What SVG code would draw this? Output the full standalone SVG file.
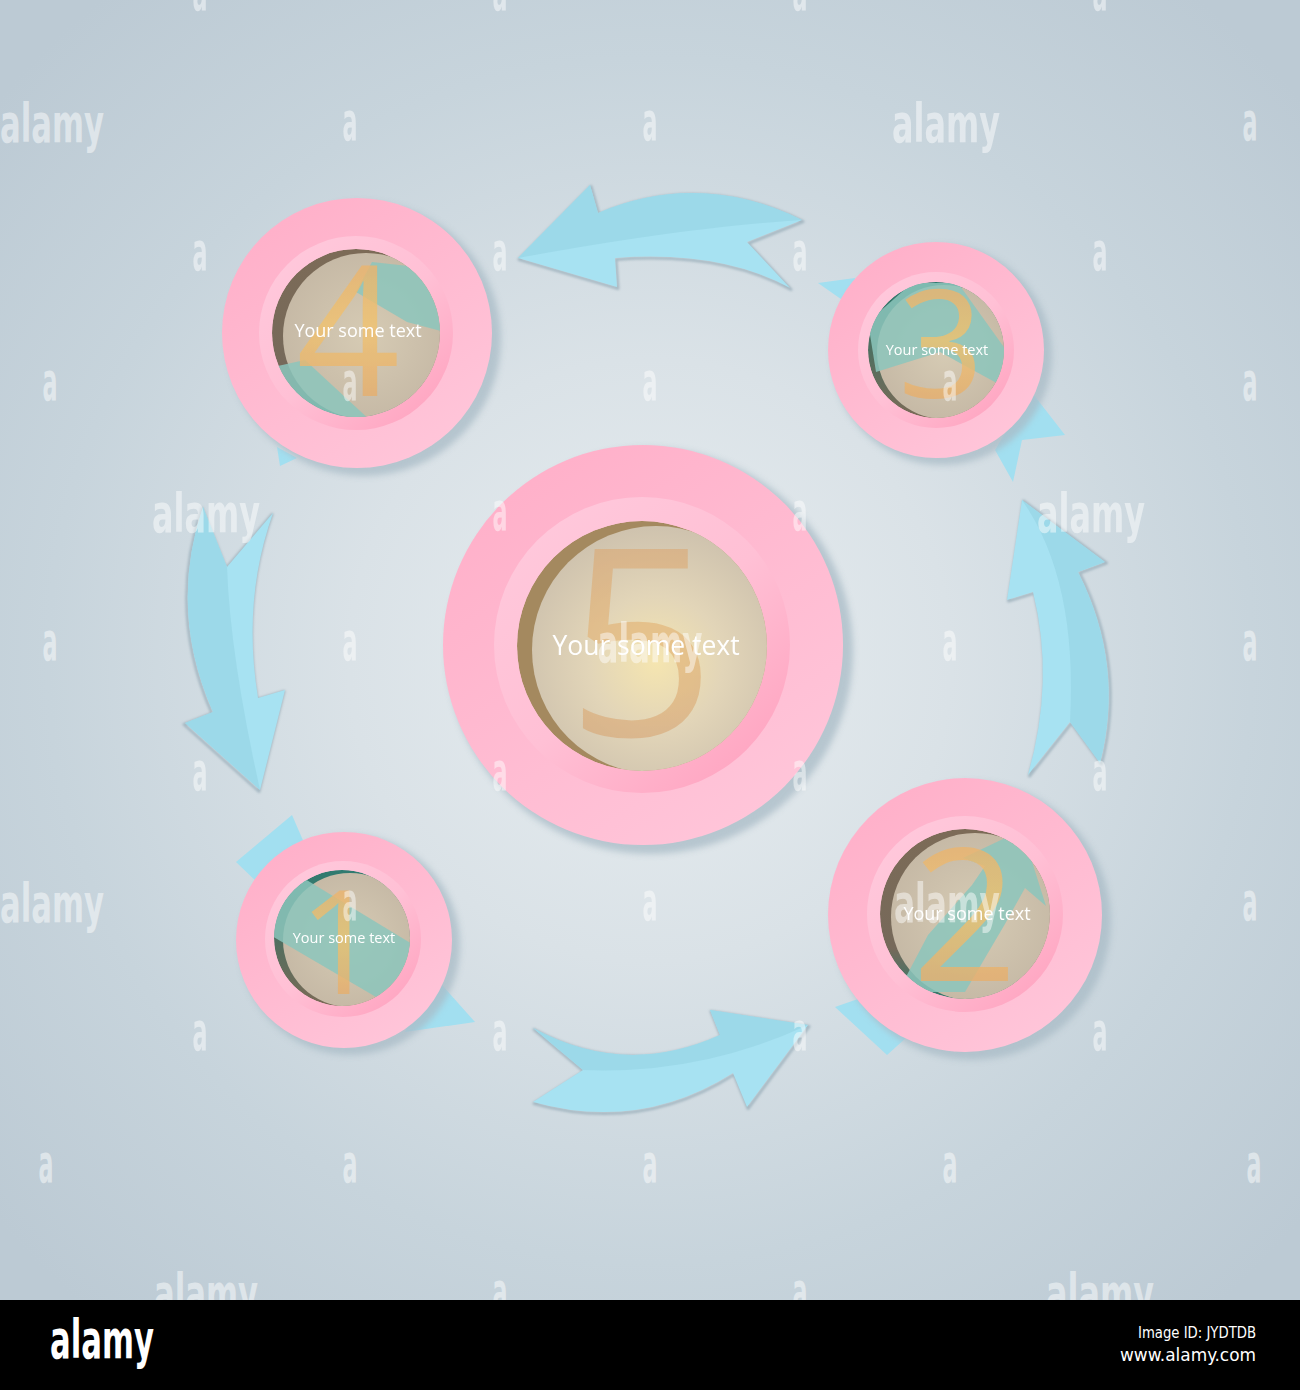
<svg xmlns="http://www.w3.org/2000/svg" width="1300" height="1390" viewBox="0 0 1300 1390">
<defs>
<style>
.arrow{fill:#a7e2f2}
.fold{fill:#98d5e6;opacity:.75}
.ashadow{fill:none;stroke:#9cb0bc;stroke-width:3;stroke-linejoin:round;opacity:.8}
.piece{fill:#a2dff0}
.outer{fill:url(#pinkOuter)}
.inner{fill:url(#pinkInner)}
.nshadow{fill:#a9bbc6;opacity:.75}
.teal{fill:#8cc6bc;opacity:.85}
.beige{fill:url(#beige)}
.lbl{fill:#ffffff;font-family:"Open Sans","Noto Sans",sans-serif;text-anchor:middle}
.dig{font-family:"Open Sans","Noto Sans",sans-serif;text-anchor:middle;fill:url(#digitGrad)}
.wm{fill:#ffffff;opacity:.48;font-family:"Liberation Sans Narrow","DejaVu Sans Condensed","Liberation Sans",sans-serif;font-weight:bold;text-anchor:middle;font-size:53px}
.ban{fill:#ffffff;font-family:"Liberation Sans Narrow","DejaVu Sans Condensed","Liberation Sans",sans-serif}
</style>
<radialGradient id="bg" gradientUnits="userSpaceOnUse" cx="650" cy="660" r="860">
<stop offset="0" stop-color="#e7edf0"/>
<stop offset="0.35" stop-color="#dae2e7"/>
<stop offset="0.7" stop-color="#c7d4dc"/>
<stop offset="1" stop-color="#bccad4"/>
</radialGradient>
<linearGradient id="pinkOuter" x1="0" y1="0" x2="0.7" y2="1">
<stop offset="0" stop-color="#ffadc7"/>
<stop offset="1" stop-color="#ffc5d9"/>
</linearGradient>
<linearGradient id="pinkInner" x1="0.1" y1="0" x2="0.9" y2="0.9">
<stop offset="0" stop-color="#ffc9dc"/>
<stop offset="0.55" stop-color="#ffc0d5"/>
<stop offset="1" stop-color="#ffa5c1"/>
</linearGradient>
<radialGradient id="beige" cx="0.5" cy="0.5" r="0.6">
<stop offset="0" stop-color="#d6cbb4"/>
<stop offset="1" stop-color="#c3b6a3"/>
</radialGradient>
<radialGradient id="beige5" cx="0.5" cy="0.55" r="0.6">
<stop offset="0" stop-color="#f5e5b0"/>
<stop offset="0.45" stop-color="#e2d5b8"/>
<stop offset="1" stop-color="#cbbfac"/>
</radialGradient>
<linearGradient id="digitGrad" x1="0" y1="0" x2="0" y2="1">
<stop offset="0" stop-color="#e6a56c"/>
<stop offset="0.5" stop-color="#f0c26e"/>
<stop offset="1" stop-color="#e0a06c"/>
</linearGradient>
<linearGradient id="digit5" x1="0" y1="0" x2="0" y2="1">
<stop offset="0" stop-color="#d29e76"/>
<stop offset="0.5" stop-color="#e2b070"/>
<stop offset="1" stop-color="#cf9c74"/>
</linearGradient>
<linearGradient id="crescentTeal" x1="0" y1="0" x2="0" y2="1">
<stop offset="0" stop-color="#2f7b70"/>
<stop offset="0.5" stop-color="#4f6f60"/>
<stop offset="1" stop-color="#7a6a56"/>
</linearGradient>
<linearGradient id="crescentBrown" x1="0" y1="0" x2="0" y2="1">
<stop offset="0" stop-color="#7c6b57"/>
<stop offset="0.7" stop-color="#76695a"/>
<stop offset="1" stop-color="#2f7a6d"/>
</linearGradient>
<filter id="soft" x="-20%" y="-20%" width="140%" height="140%">
<feGaussianBlur stdDeviation="3"/>
</filter>
<filter id="soft1" x="-10%" y="-10%" width="120%" height="120%">
<feGaussianBlur stdDeviation="1"/>
</filter>
<clipPath id="clip5"><circle cx="642" cy="646" r="125"/></clipPath>
<clipPath id="clip4"><circle cx="356" cy="333" r="84"/></clipPath>
<clipPath id="clip3"><circle cx="936" cy="350" r="68"/></clipPath>
<clipPath id="clip1"><circle cx="342" cy="938" r="68"/></clipPath>
<clipPath id="clip2"><circle cx="965" cy="914" r="85"/></clipPath>
<path id="arTop" d="M802,220 Q700,170 598,213 L590,185 L518,258 L617,287 L615,258 Q720,250 790,288 L747,242 Z"/>
<path id="arRight" d="M1028,775 Q1055,680 1033,592 L1007,600 L1022,500 L1105,562 L1078,572 Q1125,665 1100,763 L1070,722 Z"/>
<path id="arLeft" d="M203,507 Q168,610 213,712 L185,723 L260,790 L285,690 L258,698 Q242,600 273,513 L227,567 Z"/>
<path id="arBottom" d="M533,1028 Q625,1078 720,1035 L710,1010 L808,1025 L747,1107 L733,1073 Q640,1132 533,1102 L583,1070 Z"/>
</defs>

<rect x="0" y="0" width="1300" height="1390" fill="url(#bg)"/>

<g id="connectors">
<g filter="url(#soft1)">
<use href="#arTop" class="ashadow" transform="translate(1,1.5)"/>
<use href="#arRight" class="ashadow" transform="translate(1.5,1)"/>
<use href="#arLeft" class="ashadow" transform="translate(-1,1.5)"/>
<use href="#arBottom" class="ashadow" transform="translate(1,1.5)"/>
</g>
<use href="#arTop" class="arrow"/>
<path class="fold" d="M802,220 Q700,170 598,213 L590,185 L518,258 Q686,227 802,220 Z"/>
<use href="#arRight" class="arrow"/>
<path class="fold" d="M1022,500 L1105,562 L1078,572 Q1125,665 1100,763 L1070,722 Q1078,580 1022,500 Z"/>
<use href="#arLeft" class="arrow"/>
<path class="fold" d="M203,507 Q168,610 213,712 L185,723 L260,790 Q230,655 227,567 Z"/>
<use href="#arBottom" class="arrow"/>
<path class="fold" d="M533,1028 Q625,1078 720,1035 L710,1010 L808,1025 Q700,1075 583,1070 Z"/>
<polygon class="piece" points="818,283 855,278 868,318"/>
<polygon class="piece" points="1030,390 1065,435 1022,440 1013,482 995,450"/>
<polygon class="piece" points="277,447 297,458 280,466"/>
<polygon class="piece" points="292,815 305,845 260,885 236,862"/>
<polygon class="piece" points="433,975 475,1022 405,1032"/>
<polygon class="piece" points="835,1007 875,993 915,1030 887,1055"/>
</g>

<g id="node-5">
<circle class="nshadow" cx="650" cy="651" r="203" filter="url(#soft)"/>
<circle class="outer" cx="643" cy="645" r="200"/>
<circle class="inner" cx="642" cy="645" r="148"/>
<g clip-path="url(#clip5)">
<circle cx="642" cy="646" r="125" fill="#a4895f"/>
<circle cx="656" cy="650" r="124" fill="url(#beige5)"/>
<text x="641" y="736" font-size="262" opacity="0.6" font-family="Open Sans, Noto Sans, sans-serif" text-anchor="middle" fill="url(#digit5)">5</text>
</g>
<text class="lbl" x="646" y="655" font-size="26.5">Your some text</text>
</g>

<g id="node-4">
<circle class="nshadow" cx="364" cy="339" r="137" filter="url(#soft)"/>
<circle class="outer" cx="357" cy="333" r="135"/>
<circle class="inner" cx="356" cy="333" r="97"/>
<g clip-path="url(#clip4)">
<circle cx="356" cy="333" r="84" fill="url(#crescentBrown)"/>
<circle cx="366" cy="336" r="83" class="beige"/>
<polygon class="teal" points="372,262 445,270 445,332 407,322 356,292"/>
<polygon class="teal" points="268,368 305,360 372,422 285,422"/>
<text class="dig" x="348" y="396" font-size="182" opacity="0.8">4</text>
</g>
<text class="lbl" x="358" y="337" font-size="18">Your some text</text>
</g>

<g id="node-3">
<circle class="nshadow" cx="942" cy="355" r="110" filter="url(#soft)"/>
<circle class="outer" cx="936" cy="350" r="108"/>
<circle class="inner" cx="936" cy="350" r="78"/>
<g clip-path="url(#clip3)">
<circle cx="936" cy="350" r="68" fill="url(#crescentTeal)"/>
<circle cx="944" cy="352" r="67" class="beige"/>
<polygon class="teal" points="868,322 912,283 958,283 1006,350 1006,388 940,352 876,372"/>
<text class="dig" x="941" y="398" font-size="150" opacity="0.8">3</text>
</g>
<text class="lbl" x="937" y="355" font-size="14.5">Your some text</text>
</g>

<g id="node-1">
<circle class="nshadow" cx="350" cy="945" r="110" filter="url(#soft)"/>
<circle class="outer" cx="344" cy="940" r="108"/>
<circle class="inner" cx="343" cy="939" r="78"/>
<g clip-path="url(#clip1)">
<circle cx="342" cy="938" r="68" fill="url(#crescentTeal)"/>
<circle cx="350" cy="940" r="67" class="beige"/>
<polygon class="teal" points="270,878 300,876 412,944 412,990 388,1004 270,935"/>
<text class="dig" x="340" y="994" font-size="145" opacity="0.8">1</text>
</g>
<text class="lbl" x="344" y="943" font-size="14.5">Your some text</text>
</g>

<g id="node-2">
<circle class="nshadow" cx="972" cy="921" r="139" filter="url(#soft)"/>
<circle class="outer" cx="965" cy="915" r="137"/>
<circle class="inner" cx="965" cy="914" r="98"/>
<g clip-path="url(#clip2)">
<circle cx="965" cy="914" r="85" fill="url(#crescentBrown)"/>
<circle cx="975" cy="917" r="84" class="beige"/>
<polygon class="teal" points="898,992 928,935 972,885 985,866 963,858 1022,830 1046,906 1025,888 1005,924 965,992"/>
<text class="dig" x="965" y="981" font-size="186" opacity="0.8">2</text>
</g>
<text class="lbl" x="967" y="920" font-size="18">Your some text</text>
</g>

<g id="watermarks">
<text class="wm" x="200" y="10" textLength="15" lengthAdjust="spacingAndGlyphs">a</text>
<text class="wm" x="500" y="10" textLength="15" lengthAdjust="spacingAndGlyphs">a</text>
<text class="wm" x="800" y="10" textLength="15" lengthAdjust="spacingAndGlyphs">a</text>
<text class="wm" x="1100" y="10" textLength="15" lengthAdjust="spacingAndGlyphs">a</text>
<text class="wm" x="52" y="142" textLength="104" lengthAdjust="spacingAndGlyphs">alamy</text>
<text class="wm" x="350" y="140" textLength="15" lengthAdjust="spacingAndGlyphs">a</text>
<text class="wm" x="650" y="140" textLength="15" lengthAdjust="spacingAndGlyphs">a</text>
<text class="wm" x="946" y="142" textLength="108" lengthAdjust="spacingAndGlyphs">alamy</text>
<text class="wm" x="1250" y="140" textLength="15" lengthAdjust="spacingAndGlyphs">a</text>
<text class="wm" x="200" y="270" textLength="15" lengthAdjust="spacingAndGlyphs">a</text>
<text class="wm" x="500" y="270" textLength="15" lengthAdjust="spacingAndGlyphs">a</text>
<text class="wm" x="800" y="270" textLength="15" lengthAdjust="spacingAndGlyphs">a</text>
<text class="wm" x="1100" y="270" textLength="15" lengthAdjust="spacingAndGlyphs">a</text>
<text class="wm" x="50" y="400" textLength="15" lengthAdjust="spacingAndGlyphs">a</text>
<text class="wm" x="350" y="400" textLength="15" lengthAdjust="spacingAndGlyphs">a</text>
<text class="wm" x="650" y="400" textLength="15" lengthAdjust="spacingAndGlyphs">a</text>
<text class="wm" x="950" y="400" textLength="15" lengthAdjust="spacingAndGlyphs">a</text>
<text class="wm" x="1250" y="400" textLength="15" lengthAdjust="spacingAndGlyphs">a</text>
<text class="wm" x="206" y="532" textLength="108" lengthAdjust="spacingAndGlyphs">alamy</text>
<text class="wm" x="500" y="530" textLength="15" lengthAdjust="spacingAndGlyphs">a</text>
<text class="wm" x="800" y="530" textLength="15" lengthAdjust="spacingAndGlyphs">a</text>
<text class="wm" x="1091" y="532" textLength="108" lengthAdjust="spacingAndGlyphs">alamy</text>
<text class="wm" x="50" y="660" textLength="15" lengthAdjust="spacingAndGlyphs">a</text>
<text class="wm" x="350" y="660" textLength="15" lengthAdjust="spacingAndGlyphs">a</text>
<text class="wm" x="650" y="662" textLength="105" lengthAdjust="spacingAndGlyphs">alamy</text>
<text class="wm" x="950" y="660" textLength="15" lengthAdjust="spacingAndGlyphs">a</text>
<text class="wm" x="1250" y="660" textLength="15" lengthAdjust="spacingAndGlyphs">a</text>
<text class="wm" x="200" y="790" textLength="15" lengthAdjust="spacingAndGlyphs">a</text>
<text class="wm" x="500" y="790" textLength="15" lengthAdjust="spacingAndGlyphs">a</text>
<text class="wm" x="800" y="790" textLength="15" lengthAdjust="spacingAndGlyphs">a</text>
<text class="wm" x="1100" y="790" textLength="15" lengthAdjust="spacingAndGlyphs">a</text>
<text class="wm" x="52" y="922" textLength="104" lengthAdjust="spacingAndGlyphs">alamy</text>
<text class="wm" x="350" y="920" textLength="15" lengthAdjust="spacingAndGlyphs">a</text>
<text class="wm" x="650" y="920" textLength="15" lengthAdjust="spacingAndGlyphs">a</text>
<text class="wm" x="947" y="922" textLength="106" lengthAdjust="spacingAndGlyphs">alamy</text>
<text class="wm" x="1250" y="920" textLength="15" lengthAdjust="spacingAndGlyphs">a</text>
<text class="wm" x="200" y="1050" textLength="15" lengthAdjust="spacingAndGlyphs">a</text>
<text class="wm" x="500" y="1050" textLength="15" lengthAdjust="spacingAndGlyphs">a</text>
<text class="wm" x="800" y="1050" textLength="15" lengthAdjust="spacingAndGlyphs">a</text>
<text class="wm" x="1100" y="1050" textLength="15" lengthAdjust="spacingAndGlyphs">a</text>
<text class="wm" x="46" y="1182" textLength="15" lengthAdjust="spacingAndGlyphs">a</text>
<text class="wm" x="350" y="1182" textLength="15" lengthAdjust="spacingAndGlyphs">a</text>
<text class="wm" x="650" y="1182" textLength="15" lengthAdjust="spacingAndGlyphs">a</text>
<text class="wm" x="950" y="1182" textLength="15" lengthAdjust="spacingAndGlyphs">a</text>
<text class="wm" x="1254" y="1182" textLength="15" lengthAdjust="spacingAndGlyphs">a</text>
<text class="wm" x="206" y="1312" textLength="104" lengthAdjust="spacingAndGlyphs">alamy</text>
<text class="wm" x="500" y="1310" textLength="15" lengthAdjust="spacingAndGlyphs">a</text>
<text class="wm" x="800" y="1310" textLength="15" lengthAdjust="spacingAndGlyphs">a</text>
<text class="wm" x="1100" y="1312" textLength="108" lengthAdjust="spacingAndGlyphs">alamy</text>
</g>

<g id="banner">
<rect x="0" y="1300" width="1300" height="90" fill="#000000"/>
<text class="ban" x="50" y="1358" font-size="54" font-weight="bold" textLength="104" lengthAdjust="spacingAndGlyphs">alamy</text>
<text class="ban" x="1256" y="1338" font-size="15" text-anchor="end" textLength="118" lengthAdjust="spacingAndGlyphs">Image ID: JYDTDB</text>
<text class="ban" x="1256" y="1361" font-size="18" text-anchor="end" textLength="136" lengthAdjust="spacingAndGlyphs">www.alamy.com</text>
</g>
</svg>
